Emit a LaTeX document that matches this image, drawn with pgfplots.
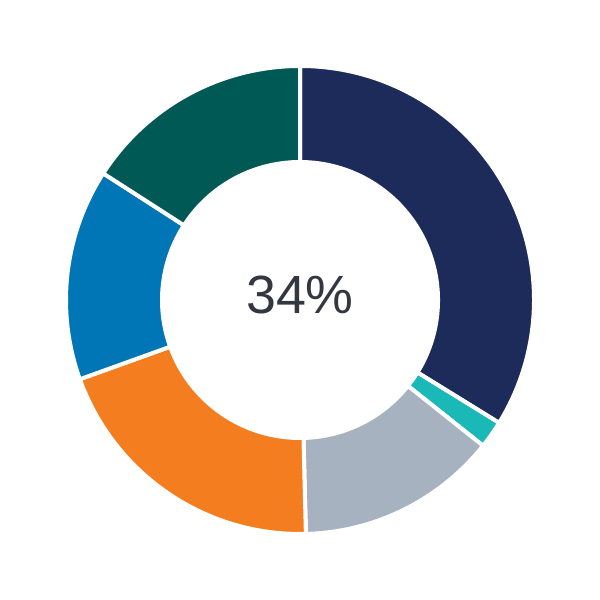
\documentclass[border=0pt]{standalone}
\usepackage{pgfplots}
\usepackage{pgfplotstable}
\pgfplotsset{compat=1.18}
\usepackage{fontspec}
\setmainfont{Liberation Sans}

\definecolor{cnavy}{HTML}{1C2B5A}
\definecolor{cteal}{HTML}{1BB8B8}
\definecolor{cgrey}{HTML}{A7B2C0}
\definecolor{corange}{HTML}{F47D20}
\definecolor{cblue}{HTML}{0076B6}
\definecolor{cgreen}{HTML}{015955}
\definecolor{ctext}{HTML}{333840}

% share of each slice, clockwise from 12 o'clock
\pgfplotstableread{
name   value colour
navy   33.8  cnavy
teal   1.9   cteal
grey   13.9  cgrey
orange 19.9  corange
blue   14.6  cblue
green  15.9  cgreen
}\slices

\begin{document}
\begin{tikzpicture}
\begin{axis}[
  width=600bp, height=600bp,
  scale only axis,
  xmin=-300, xmax=300,
  ymin=-300, ymax=300,
  hide axis,
  clip=false,
]
\path (axis cs:-300,-300) rectangle (axis cs:300,300);
\pgfplotstablegetrowsof{\slices}
\pgfmathtruncatemacro\last{\pgfplotsretval-1}
\def\startangle{90}
\pgfplotsforeachungrouped \i in {0,...,\last}{
  \pgfplotstablegetelem{\i}{value}\of\slices \let\v\pgfplotsretval
  \pgfplotstablegetelem{\i}{colour}\of\slices \let\c\pgfplotsretval
  \pgfmathsetmacro\endangle{\startangle - 3.6*\v}
  \edef\temp{\noexpand\filldraw[fill=\c, draw=white, line width=4bp,
      shift={(axis cs:0,0)}]
    (\startangle:234bp) arc[start angle=\startangle, end angle=\endangle, radius=234bp]
    -- (\endangle:138bp) arc[start angle=\endangle, end angle=\startangle, radius=138bp]
    -- cycle;}
  \temp
  \let\startangle\endangle
}
\node[text=ctext, inner sep=0pt] at (axis cs:0,5) {\fontsize{54}{58}\selectfont 34\%};
\end{axis}
\end{tikzpicture}
\end{document}
